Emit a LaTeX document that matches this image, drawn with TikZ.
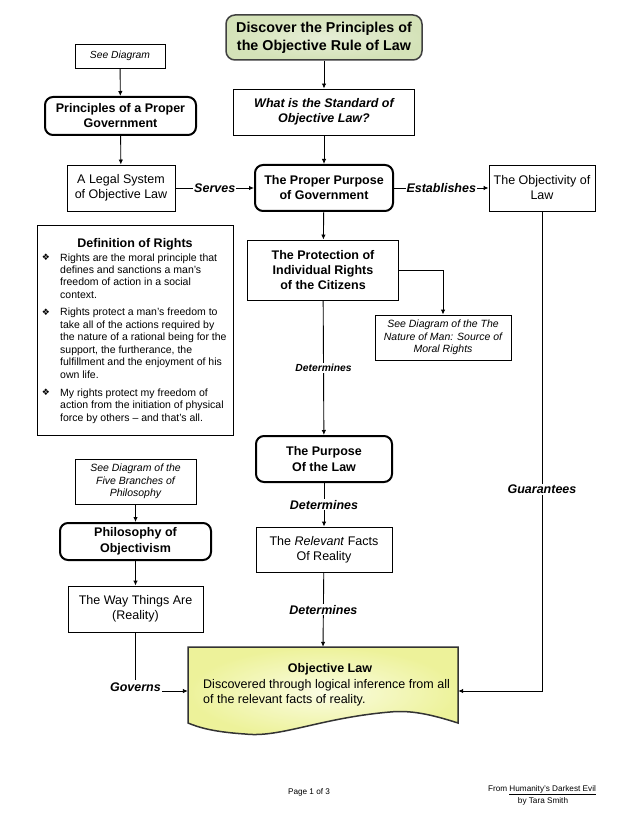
\documentclass[tikz,border=0pt]{standalone}
\usepackage{fontspec}
\setmainfont{Liberation Sans}
\newfontfamily\symfont{DejaVu Sans}
\usetikzlibrary{arrows.meta,positioning}
\definecolor{titlegreen}{HTML}{D4E2B8}
\definecolor{titlegreenin}{HTML}{E6EED6}
\definecolor{olyellow}{HTML}{EDF29A}
\definecolor{olyellowin}{HTML}{FAFCE2}
\tikzset{
  base/.style={inner sep=0pt, align=center, text=black},
  plainbox/.style={base, draw=black, line width=0.9pt},
  roundbox/.style={base, draw=black, line width=2pt, rounded corners=8pt},
  normtxt/.style={font=\fontsize{12.5}{15}\selectfont},
  boldtxt/.style={font=\fontsize{12.5}{15}\selectfont\bfseries},
  smallit/.style={font=\fontsize{10.5}{12.5}\selectfont\itshape},
  lbl/.style={base, fill=white, inner sep=1pt, font=\fontsize{12.5}{15}\selectfont\bfseries\itshape},
  lblsmall/.style={base, fill=white, inner sep=1pt, font=\fontsize{10.3}{12}\selectfont\bfseries\itshape},
  conn/.style={line width=0.9pt, -{Latex[length=5pt,width=4.5pt]}},
  line/.style={line width=0.9pt},
  bullettxt/.style={base, anchor=north west, align=left, font=\fontsize{10.5}{12.45}\selectfont},
  bulletsym/.style={base, font=\symfont\fontsize{9}{10}\selectfont},
  foot/.style={base, font=\fontsize{8.2}{10}\selectfont},
}
\begin{document}
\begin{tikzpicture}[x=1pt,y=-1pt]
\useasboundingbox (0,0) rectangle (638,826);
\fill[white] (0,0) rectangle (638,826);

% title
\node[base, minimum width=196, minimum height=45, rounded corners=9pt, draw=black!75, line width=1.5pt,
      inner color=titlegreenin, outer color=titlegreen,
      font=\fontsize{14.3}{18}\selectfont\bfseries] (title) at (324,37.5)
  {Discover the Principles of\\the Objective Rule of Law};

\node[plainbox, minimum width=90, minimum height=24, font=\fontsize{10.3}{12}\selectfont\itshape] (seediag) at (120,56) {See Diagram};
\node[roundbox, boldtxt, minimum width=151, minimum height=38] (principles) at (120.5,116) {Principles of a Proper\\Government};
\node[plainbox, minimum width=181, minimum height=46, font=\fontsize{12.5}{15}\selectfont\bfseries\itshape] (what) at (324,112) {What is the Standard of\\Objective Law?};

\node[plainbox, normtxt, minimum width=108, minimum height=46] (legal) at (121,188) {A Legal System\\of Objective Law};
\node[roundbox, boldtxt, minimum width=138, minimum height=46] (proper) at (324,188) {The Proper Purpose\\of Government};
\node[plainbox, normtxt, minimum width=106, minimum height=46] (objectivity) at (542,188) {The Objectivity of\\Law};

% definition of rights
\node[plainbox, minimum width=196, minimum height=210] (def) at (135,330) {};
\node[base, font=\fontsize{12.5}{15}\selectfont\bfseries] (deftitle) at (135,244) {Definition of Rights};
\node[bulletsym] (b1s) at (46,257.5) {❖};
\node[bullettxt] (b1) at (60,253.2) {Rights are the moral principle that\\defines and sanctions a man’s\\freedom of action in a social\\context.};
\node[bulletsym] (b2s) at (46,312.3) {❖};
\node[bullettxt] (b2) at (60,308) {Rights protect a man’s freedom to\\take all of the actions required by\\the nature of a rational being for the\\support, the furtherance, the\\fulfillment and the enjoyment of his\\own life.};
\node[bulletsym] (b3s) at (46,392.7) {❖};
\node[bullettxt] (b3) at (60,388.4) {My rights protect my freedom of\\action from the initiation of physical\\force by others – and that’s all.};

\node[plainbox, boldtxt, minimum width=151, minimum height=60] (protection) at (323,270) {The Protection of\\Individual Rights\\of the Citizens};
\node[plainbox, smallit, minimum width=136, minimum height=45] (nature) at (443,337.5) {See Diagram of the The\\Nature of Man: Source of\\Moral Rights};

\node[roundbox, minimum width=136, minimum height=46, font=\fontsize{12.5}{16}\selectfont\bfseries] (purpose) at (324,459) {The Purpose\\Of the Law};
\node[plainbox, smallit, minimum width=121, minimum height=45] (five) at (135.5,481.5) {See Diagram of the\\Five Branches of\\Philosophy};
\node[roundbox, minimum width=151, minimum height=37, font=\fontsize{12.5}{16}\selectfont\bfseries] (philo) at (135.5,541.5) {Philosophy of\\Objectivism};
\node[plainbox, normtxt, minimum width=135, minimum height=46] (way) at (135.5,609) {The Way Things Are\\(Reality)};
\node[plainbox, normtxt, minimum width=136, minimum height=45] (relevant) at (324,549.5) {The \textit{Relevant} Facts\\Of Reality};

% objective law document shape
\shade[inner color=olyellowin, outer color=olyellow, draw=black!80, line width=1.5pt]
  (188,647) -- (458,647) -- (458,723)
  .. controls (430,714) and (410,710) .. (390,712)
  .. controls (320,718) and (280,738) .. (245,734)
  .. controls (215,732) and (200,728) .. (188,723) -- cycle;
\node[base, minimum width=270, minimum height=88] (ol) at (323,691) {};
\node[base, font=\fontsize{12.5}{15}\selectfont\bfseries] (oltitle) at (330,669) {Objective Law};
\node[base, anchor=north west, align=left, font=\fontsize{12.5}{15}\selectfont] (olbody) at (203,679.3) {Discovered through logical inference from all\\of the relevant facts of reality.};

% connectors
\draw[conn] (title) -- (what);
\draw[conn] (seediag) -- (principles);
\draw[conn] (principles) -- (legal);
\draw[conn] (what) -- (proper);
\draw[conn] (legal) -- node[lbl] (serves) {Serves} (proper);
\draw[conn] (proper) -- node[lbl, pos=0.5] (establishes) {Establishes} (objectivity);
\draw[conn] (proper) -- (protection);
\draw[conn] (protection.east) -| (nature.north);
\draw[conn] (protection) -- node[lblsmall] (det1) {Determines} (purpose);
\draw[conn] (purpose) -- node[lbl] (det2) {Determines} (relevant);
\draw[conn] (relevant) -- node[lbl] (det3) {Determines} (ol.north);
\draw[conn] (five) -- (philo);
\draw[conn] (philo) -- (way);
\draw[conn] (objectivity.south) |- node[lbl, pos=0.29] (guar) {Guarantees} (ol.east);
\draw[line] (way.south) -- (way.south |- 0,680) coordinate (gc);
\node[lbl, fill=none, anchor=east] (governs) at (162,687) {Governs};
\draw[conn] (governs.east |- ol.west) -- (ol.west);

% footer
\node[foot] (page) at (309,792) {Page 1 of 3};
\node[foot] (from) at (542,790) {From \underline{Humanity’s Darkest Evil}};
\node[foot] (by) at (543,801.5) {by Tara Smith};
\end{tikzpicture}
\end{document}
